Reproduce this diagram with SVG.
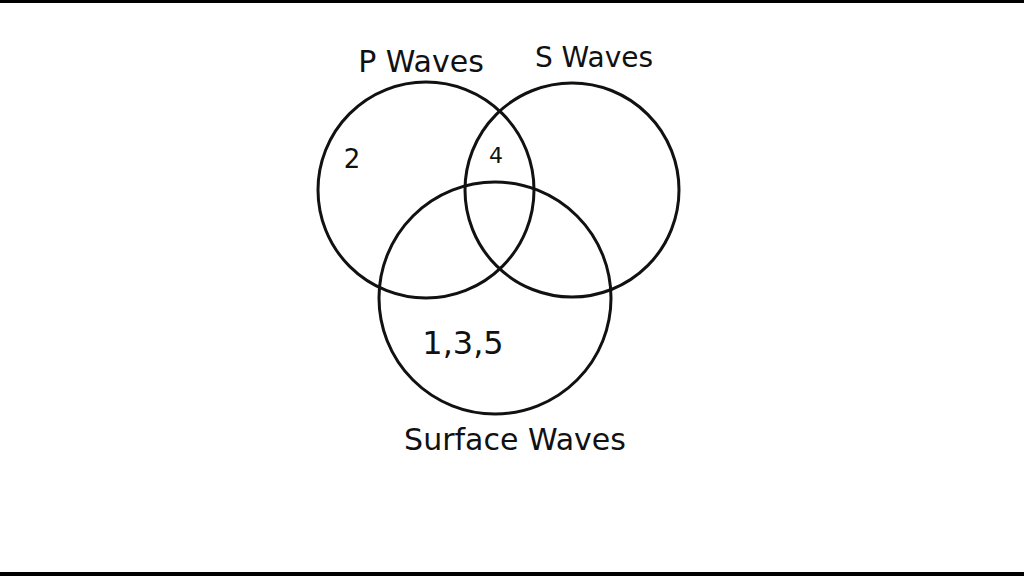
<svg xmlns="http://www.w3.org/2000/svg" width="1024" height="576" viewBox="0 0 1024 576">
<style>
.c{fill:none;stroke:#111;stroke-width:3}
text{font-family:"DejaVu Sans","Liberation Sans",sans-serif;fill:#111}
</style>
<rect width="1024" height="576" fill="#fff"/>
<rect x="0" y="0" width="1024" height="3" fill="#000"/>
<rect x="0" y="572" width="1024" height="4" fill="#000"/>
<g id="p-waves">
<circle class="c" cx="426" cy="190" r="108"/>
<text x="421" y="72" font-size="30" text-anchor="middle">P Waves</text>
<text x="352" y="168" font-size="26" text-anchor="middle">2</text>
</g>
<g id="s-waves">
<circle class="c" cx="572" cy="190" r="107"/>
<text x="594" y="67" font-size="28" text-anchor="middle">S Waves</text>
<text x="496" y="163" font-size="22" text-anchor="middle">4</text>
</g>
<g id="surface-waves">
<circle class="c" cx="495" cy="298" r="116"/>
<text x="463" y="354" font-size="32" text-anchor="middle">1,3,5</text>
<text x="515" y="450" font-size="30" text-anchor="middle">Surface Waves</text>
</g>
<g id="connectors"></g>
</svg>
